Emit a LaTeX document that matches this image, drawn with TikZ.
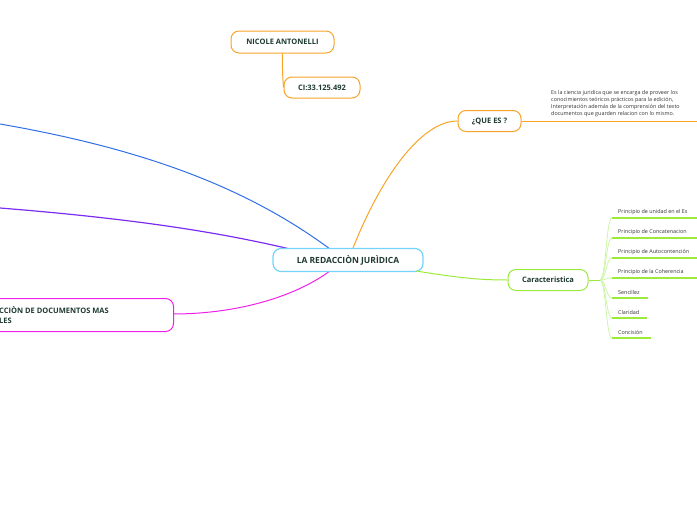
\documentclass[tikz,border=0pt]{standalone}
\usepackage{fontspec}
\setmainfont{Open Sans}
\begin{document}
\begin{tikzpicture}[x=1pt,y=-1pt,
  box/.style={draw=#1,line width=1pt,rounded corners=8pt,fill=white,text=txt,font=\bfseries\fontsize{7.5}{8}\selectfont,inner sep=0pt},
  sm/.style={font=\fontsize{5.4}{7}\selectfont,text=black!80,anchor=south west,inner sep=1pt,align=left}]
\definecolor{txt}{HTML}{1E3A32}
\definecolor{org}{HTML}{F7A428}
\definecolor{grn}{HTML}{9BEA3C}
\definecolor{lgr}{HTML}{CDF5A8}
\definecolor{blu}{HTML}{2F6FE8}
\definecolor{pur}{HTML}{7A2CF2}
\definecolor{mag}{HTML}{F020E8}
\useasboundingbox (0,0) rectangle (697,520);
% left curves
\draw[blu,line width=1pt] (0,124) .. controls (150,150) and (250,190) .. (330,249);
\draw[pur,line width=1.2pt] (0,208) .. controls (150,220) and (230,235) .. (290,249);
\coordinate (mL) at (173,314);
\draw[mag,line width=1pt] (mL) .. controls (230,314) and (290,300) .. (330,271);
\node[box=mag,minimum width=183pt,minimum height=33pt,anchor=north west] (m) at (-10,298) {};
\node[anchor=west,text=txt,font=\bfseries\fontsize{7.5}{9.5}\selectfont,align=left,inner sep=0pt] (mt) at (-1,315) {CCIÒN DE DOCUMENTOS MAS\\LES};
% center
\node[box=blu!50!cyan!60,minimum width=150pt,minimum height=23pt,line width=1.2pt,font=\bfseries\fontsize{8.5}{9}\selectfont] (c) at (348,260) {LA REDACCIÒN JURÌDICA};
% que es
\node[box=org,minimum width=63pt,minimum height=21pt] (q) at (489.5,121) {¿QUE ES ?};
\draw[org,line width=1pt] (353,248) .. controls (380,180) and (420,121) .. (q.west);
\coordinate (qe) at (697,121);
\draw[org,line width=1pt] (q.east) -- (qe);
\node[sm] (qt) at (550,118) {Es la ciencia juridica que se encarga de proveer los\\conocimientos teóricos prácticos para la edición,\\Interpretación además de la comprensión del texto\\documentos que guarden relacion con lo mismo.};
% nicole
\node[box=org,minimum width=103pt,minimum height=22pt] (n) at (282.5,42) {NICOLE ANTONELLI};
\node[box=org,minimum width=76pt,minimum height=21pt] (ci) at (322,87.5) {CI:33.125.492};
\coordinate (ns) at (n.south);
\draw[org,line width=1pt] (ns) .. controls (282,80) and (284,87.5) .. (ci.west);
% caracteristica
\node[box=grn,minimum width=80pt,minimum height=21pt] (k) at (548,280) {Caracteristica};
\draw[grn,line width=1pt] (416,271) .. controls (460,278) and (480,280) .. (k.west);
\coordinate (kr) at (600,280);
\draw[grn,line width=1pt] (k.east) -- (kr);
\foreach \t/\y/\e [count=\i] in {Principio de unidad en el Es/218/697,Principio de Concatenacion/238/697,Principio de Autocontención/258/697,Principio de la Coherencia/278/697,Sencillez/298/648,Claridad/318/647,Concisión/338/651}{
  \coordinate (s\i) at (612,\y);
  \coordinate (e\i) at (\e,\y);
  \draw[lgr,line width=0.8pt] (kr) .. controls (606,280) and (606,\y) .. (s\i);
  \draw[grn,line width=1.5pt] (s\i) -- (e\i);
  \node[sm,anchor=south west] (t\i) at (617,\y-2) {\t};
}
\end{tikzpicture}
\end{document}
